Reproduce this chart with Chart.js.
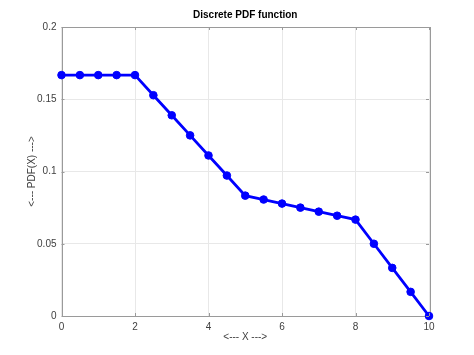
<!DOCTYPE html>
<html>
<head>
<meta charset="utf-8">
<script src="https://cdn.jsdelivr.net/npm/chart.js@4/dist/chart.umd.min.js"></script>
<style>
html,body{margin:0;padding:0;background:#fff;}
#wrap{width:474px;height:355px;position:relative;}
</style>
</head>
<body>
<div id="wrap"><canvas id="c" width="474" height="355"></canvas></div>
<script>
const xValues = [0, 0.5, 1, 1.5, 2, 2.5, 3, 3.5, 4, 4.5, 5, 5.5, 6, 6.5, 7, 7.5, 8, 8.5, 9, 9.5, 10];
const pdfValues = [0.1667, 0.1667, 0.1667, 0.1667, 0.1667, 0.1528, 0.1389, 0.125, 0.1111, 0.0972,
                   0.0833, 0.0806, 0.0778, 0.075, 0.0722, 0.0694, 0.0667, 0.05, 0.0333, 0.0167, 0];
const xTicks = [0, 2, 4, 6, 8, 10];
const yTicks = [0, 0.05, 0.1, 0.15, 0.2];
const titleText = 'Discrete PDF function';
const xLabel = '<--- X --->';
const yLabel = '<--- PDF(X) --->';

const FONT = 'Liberation Sans, Arial, Helvetica, sans-serif';

const boxPlugin = {
  id: 'box',
  afterDatasetsDraw(chart) {
    const {ctx, chartArea: a, scales} = chart;
    ctx.save();
    ctx.strokeStyle = '#9a9a9a';
    ctx.lineWidth = 1;
    ctx.beginPath();
    xTicks.forEach(v => {
      const px = Math.round(scales.x.getPixelForValue(v)) + 0.5;
      ctx.moveTo(px, a.bottom); ctx.lineTo(px, a.bottom - 3);
      ctx.moveTo(px, a.top); ctx.lineTo(px, a.top + 3);
    });
    yTicks.forEach(v => {
      const py = Math.round(scales.y.getPixelForValue(v)) + 0.5;
      ctx.moveTo(a.left, py); ctx.lineTo(a.left + 3, py);
      ctx.moveTo(a.right, py); ctx.lineTo(a.right - 3, py);
    });
    ctx.stroke();
    ctx.restore();
  },
  beforeDatasetsDraw(chart) {
    const {ctx, chartArea: a} = chart;
    ctx.save();
    ctx.strokeStyle = '#9a9a9a';
    ctx.lineWidth = 1;
    ctx.strokeRect(Math.round(a.left) + 0.5, Math.round(a.top) + 0.5,
                   Math.round(a.right - a.left), Math.round(a.bottom - a.top));
    ctx.restore();
  }
};

new Chart(document.getElementById('c'), {
  type: 'scatter',
  data: {
    datasets: [{
      data: xValues.map((x, i) => ({x: x, y: pdfValues[i]})),
      showLine: true,
      borderColor: '#0000ff',
      backgroundColor: '#0000ff',
      borderWidth: 2.8,
      pointRadius: 3.8,
      pointHoverRadius: 3.8,
      pointBorderWidth: 1,
      pointBorderColor: '#0000ff',
      pointBackgroundColor: '#0000ff',
      tension: 0,
      clip: false
    }]
  },
  options: {
    responsive: false,
    animation: false,
    devicePixelRatio: 1,
    layout: {padding: {left: 0, right: 45, top: 0, bottom: 0}},
    plugins: {
      legend: {display: false},
      tooltip: {enabled: false},
      title: {display: false}
    },
    scales: {
      x: {
        type: 'linear',
        min: 0, max: 10,
        afterFit: s => { s.height = 39; },
        afterBuildTicks: s => { s.ticks = xTicks.map(v => ({value: v})); },
        ticks: {
          color: '#404040',
          font: {family: FONT, size: 10},
          padding: 5,
          maxRotation: 0,
          callback: v => String(v)
        },
        grid: {color: '#e8e8e8', drawTicks: false, lineWidth: 1},
        border: {display: false},
        title: {
          display: true,
          text: xLabel,
          color: '#404040',
          font: {family: FONT, size: 10, lineHeight: 1.2},
          padding: {top: 0, bottom: 12}
        }
      },
      xTop: {
        type: 'linear',
        position: 'top',
        min: 0, max: 10,
        afterFit: s => { s.height = 27; },
        ticks: {display: false},
        grid: {display: false},
        border: {display: false},
        title: {
          display: true,
          text: titleText,
          color: '#000',
          font: {family: FONT, size: 10, weight: 'bold', lineHeight: 1.2},
          padding: {top: 9, bottom: 0}
        }
      },
      y: {
        type: 'linear',
        min: 0, max: 0.2,
        afterFit: s => { s.width = 61.5; },
        afterBuildTicks: s => { s.ticks = yTicks.map(v => ({value: v})); },
        ticks: {
          color: '#404040',
          font: {family: FONT, size: 10},
          padding: 5,
          callback: v => String(Math.round(v * 1000) / 1000)
        },
        grid: {color: '#e8e8e8', drawTicks: false, lineWidth: 1},
        border: {display: false},
        title: {
          display: true,
          text: yLabel,
          color: '#404040',
          font: {family: FONT, size: 10, lineHeight: 1.2},
          padding: {top: 26, bottom: 0}
        }
      }
    }
  },
  plugins: [boxPlugin]
});
</script>
</body>
</html>
